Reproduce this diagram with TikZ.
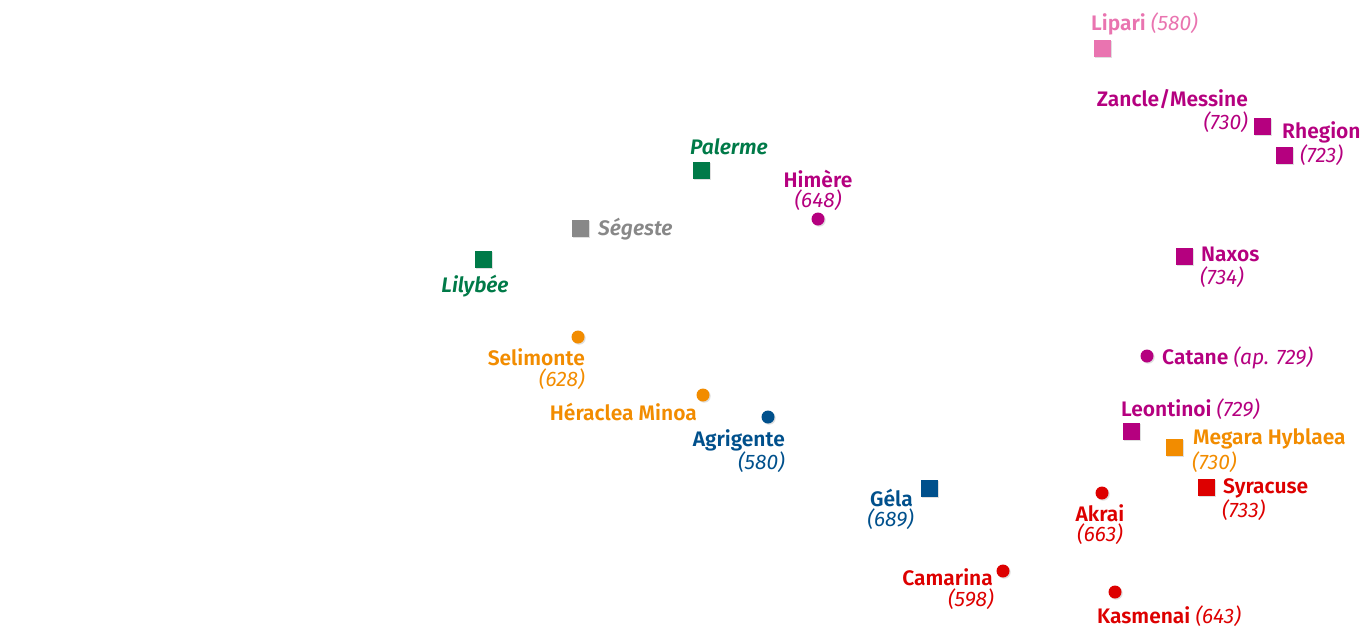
\documentclass[tikz,border=0pt]{standalone}
\usepackage{fontspec}
\setmainfont{Fira Sans}[BoldFont={Fira Sans SemiBold},BoldItalicFont={Fira Sans SemiBold Italic}]
\usetikzlibrary{shadows}
\definecolor{mag}{HTML}{B5007F}
\definecolor{grn}{HTML}{007A48}
\definecolor{gry}{HTML}{888888}
\definecolor{org}{HTML}{F28C00}
\definecolor{blu}{HTML}{00508C}
\definecolor{rd}{HTML}{DD0000}
\definecolor{pnk}{HTML}{E974B0}
\tikzset{
 sq/.style={fill=#1,draw=none,minimum size=17pt,inner sep=0pt,rectangle,drop shadow={shadow xshift=1.2pt,shadow yshift=-1.2pt,opacity=0.25}},
 ci/.style={fill=#1,draw=none,minimum size=13pt,inner sep=0pt,circle,drop shadow={shadow xshift=1.2pt,shadow yshift=-1.2pt,opacity=0.25}},
 lb/.style={text=#1,font=\fontsize{21}{21}\selectfont\bfseries,inner sep=0pt},
}
\newcommand{\yr}[1]{\textmd{\itshape(#1)}}
\begin{document}
\begin{tikzpicture}[x=1pt,y=-1pt]
\useasboundingbox (0,0) rectangle (1371,638);
% markers
\node[sq=pnk] (lip) at (1102,48) {};
\node[sq=mag] (zan) at (1262,126) {};
\node[sq=mag] (rhe) at (1284,155) {};
\node[sq=grn] (pal) at (701,170) {};
\node[ci=mag] (him) at (818,219) {};
\node[sq=gry] (seg) at (580,228) {};
\node[sq=grn] (lil) at (483,259) {};
\node[sq=mag] (nax) at (1184,256) {};
\node[ci=org] (sel) at (578,337) {};
\node[ci=mag] (cat) at (1147,356) {};
\node[ci=org] (her) at (703,395) {};
\node[ci=blu] (agr) at (768,417) {};
\node[sq=mag] (leo) at (1131,431) {};
\node[sq=org] (meg) at (1174,447) {};
\node[sq=blu] (gel) at (929,488) {};
\node[ci=rd] (akr) at (1102,493) {};
\node[sq=rd] (syr) at (1206,487) {};
\node[ci=rd] (cam) at (1003,571) {};
\node[ci=rd] (kas) at (1115,592) {};
% labels
\node[lb=pnk,anchor=west] (tlip) at (1091,24) {Lipari \yr{580}};
\node[lb=mag,anchor=east] (tzan) at (1248,99) {Zancle/Messine};
\node[lb=mag,anchor=east] (tzan2) at (1248,122) {\yr{730}};
\node[lb=mag,anchor=west] (trhe) at (1282,132) {Rhegion};
\node[lb=mag,anchor=west] (trhe2) at (1300,155) {\yr{723}};
\node[lb=grn,anchor=west] (tpal) at (690,147) {\itshape Palerme};
\node[lb=mag] (thim) at (818,179) {Himère};
\node[lb=mag] (thim2) at (818,200) {\yr{648}};
\node[lb=gry,anchor=west] (tseg) at (598,229) {\itshape Ségeste};
\node[lb=grn] (tlil) at (475,286) {\itshape Lilybée};
\node[lb=mag,anchor=west] (tnax) at (1201,254) {Naxos};
\node[lb=mag,anchor=west] (tnax2) at (1200,277) {\yr{734}};
\node[lb=org,anchor=east] (tsel) at (585,357) {Selimonte};
\node[lb=org,anchor=east] (tsel2) at (585,379) {\yr{628}};
\node[lb=mag,anchor=west] (tcat) at (1162,358) {Catane \yr{ap. 729}};
\node[lb=org,anchor=east] (ther) at (697,412) {Héraclea Minoa};
\node[lb=blu,anchor=east] (tagr) at (785,440) {Agrigente};
\node[lb=blu,anchor=east] (tagr2) at (785,462) {\yr{580}};
\node[lb=mag,anchor=west] (tleo) at (1121,409) {Leontinoi \yr{729}};
\node[lb=org,anchor=west] (tmeg) at (1193,439) {Megara Hyblaea};
\node[lb=org,anchor=west] (tmeg2) at (1192,462) {\yr{730}};
\node[lb=blu,anchor=east] (tgel) at (913,498) {Géla};
\node[lb=blu,anchor=east] (tgel2) at (914,519) {\yr{689}};
\node[lb=rd] (takr) at (1100,513) {Akrai};
\node[lb=rd] (takr2) at (1100,534) {\yr{663}};
\node[lb=rd,anchor=west] (tsyr) at (1223,488) {Syracuse};
\node[lb=rd,anchor=west] (tsyr2) at (1222,510) {\yr{733}};
\node[lb=rd,anchor=east] (tcam) at (993,577) {Camarina};
\node[lb=rd,anchor=east] (tcam2) at (994,599) {\yr{598}};
\node[lb=rd,anchor=west] (tkas) at (1097,616) {Kasmenai \yr{643}};
\end{tikzpicture}
\end{document}
